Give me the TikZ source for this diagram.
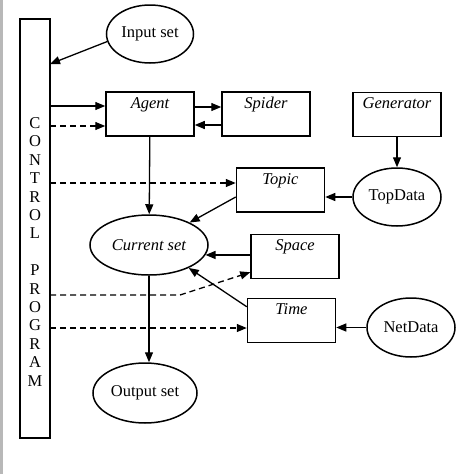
\documentclass[tikz,border=0pt]{standalone}
\usepackage{fontspec}
\setmainfont{Liberation Serif}
\usetikzlibrary{shapes.geometric,arrows.meta}

\begin{document}
\begin{tikzpicture}[x=1pt,y=-1pt,font=\fontsize{16.5}{19}\selectfont]
	\useasboundingbox (0,0) rectangle (474,474);
	\fill[black!28] (0,0) rectangle (3,474);
	\tikzstyle{box}=[draw,rectangle,line width=1.5pt,minimum width=88pt,inner sep=3pt,text height=13pt,text depth=25pt,font=\fontsize{16.5}{19}\selectfont\itshape]
	\tikzstyle{set}=[draw,ellipse,line width=1.5pt,inner sep=0pt]
	\tikzstyle{arr}=[line width=1.3pt,-{Triangle[length=10pt,width=8pt]}]
	\tikzstyle{darr}=[arr,dash pattern=on 6pt off 4pt]
	\node[draw,line width=1.5pt,minimum width=30pt,minimum height=419pt,inner sep=0pt] (ctrl) at (35,228.5) {};
	\foreach \c [count=\i from 0] in {C,O,N,T,R,O,L}
		\node (l_\i) at (35,{123+\i*18.4}) {\c};
	\foreach \c [count=\i from 8] in {P,R,O,G,R,A,M}
		\node (l_\i) at (35,{123+\i*18.4}) {\c};
	\node[set,minimum width=87pt,minimum height=58pt] (s_input) at (150,34) {Input set};
	\node[box] (b_agent) at (150,114) {Agent};
	\node[box] (b_spider) at (266,114) {Spider};
	\node[box] (b_gen) at (397,114.5) {Generator};
	\node[box] (b_topic) at (280.5,190) {Topic};
	\node[set,minimum width=88pt,minimum height=58pt] (s_topdata) at (397,197) {TopData};
	\node[set,minimum width=118pt,minimum height=60pt] (s_current) at (149,245) {\itshape Current set};
	\node[box] (b_space) at (295,256.5) {Space};
	\node[box] (b_time) at (291.5,320.5) {Time};
	\node[set,minimum width=88pt,minimum height=59pt] (s_netdata) at (411,327.5) {NetData};
	\node[set,minimum width=104pt,minimum height=60pt] (s_output) at (145,393) {Output set};
	\coordinate (c_in) at (50,64);
	\coordinate (c_1) at (50,106);
	\coordinate (c_2) at (50,126);
	\coordinate (c_3) at (50,183);
	\coordinate (c_4) at (50,295);
	\coordinate (c_5) at (50,328);
	\draw[arr] (s_input.190) -- (c_in);
	\draw[arr] (c_1) -- (c_1 -| b_agent.west);
	\draw[darr] (c_2) -- (c_2 -| b_agent.west);
	\draw[arr] ([yshift=7pt]b_agent.east) -- ([yshift=7pt]b_spider.west);
	\draw[arr] ([yshift=-11pt]b_spider.west) -- ([yshift=-11pt]b_agent.east);
	\draw[arr] (b_agent) -- (s_current);
	\draw[darr] (c_3) -- (c_3 -| b_topic.west);
	\draw[arr] ([yshift=-7pt]b_topic.west) -- (s_current);
	\draw[arr] (b_gen) -- (s_topdata);
	\draw[arr] (s_topdata.west) -- (s_topdata.west -| b_topic.east);
	\draw[arr] (b_space.west |- s_current.-10) -- (s_current.-10);
	\draw[darr] (c_4) -- ++(130,0) -- ([yshift=7pt]b_space.south west);
	\draw[arr] ([yshift=-9pt]b_time.north west) -- (s_current.-30);
	\draw[darr] (c_5) -- (c_5 -| b_time.west);
	\draw[arr] (s_netdata.west) -- (s_netdata.west -| b_time.east);
	\draw[arr] (s_current.south) -- (s_current.south |- s_output.north);
\end{tikzpicture}
\end{document}
